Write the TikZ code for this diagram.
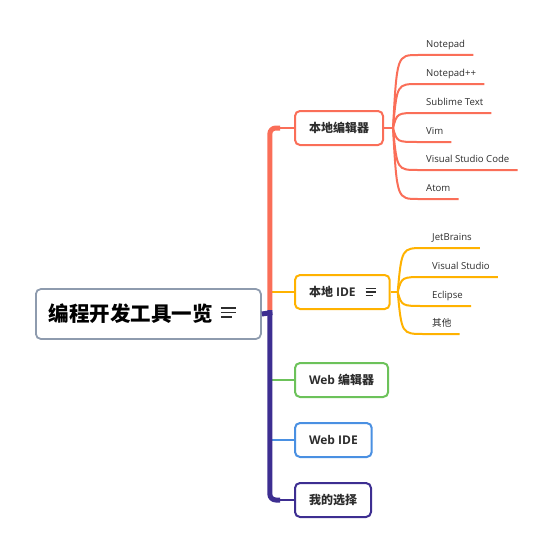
\documentclass[tikz,border=0pt]{standalone}
\usepackage{fontspec}
\setmainfont{Open Sans}
\newfontfamily\cjk{Noto Sans CJK SC}
\usetikzlibrary{calc}
\definecolor{cO}{RGB}{250,110,88}
\definecolor{cY}{RGB}{255,178,0}
\definecolor{cG}{RGB}{108,194,90}
\definecolor{cB}{RGB}{74,144,226}
\definecolor{cP}{RGB}{61,46,145}
\definecolor{cR}{RGB}{142,155,174}
\definecolor{tx}{RGB}{45,45,45}
\begin{document}
\begin{tikzpicture}[x=1pt,y=-1pt,
  rootbox/.style={draw=cR, line width=1.8, rounded corners=5, fill=white, anchor=west,
    minimum height=50, text width=199, inner xsep=13, align=left, text=black,
    font=\cjk\bfseries\fontsize{20.5}{23}\selectfont},
  mainbox/.style={line width=2, rounded corners=5, fill=white, anchor=west,
    minimum height=34, inner xsep=14, text=tx, font=\bfseries\fontsize{12}{14}\selectfont},
  leaf/.style={anchor=south west, inner xsep=8, inner ysep=5.2, text height=7, text depth=2.5,
    text=tx, font=\fontsize{9.6}{11}\selectfont},
  conn/.style={line width=2},
  edl/.style={conn, draw=cO},
  idl/.style={conn, draw=cY},
  icon/.style={draw=tx, line width=1.3}
]
\useasboundingbox (0,0) rectangle (550,551);

% main nodes
\node[rootbox] (root) at (35,314) {编程开发工具一览};
\node[mainbox, draw=cO] (ed) at (294,128) {\cjk 本地编辑器};
\node[mainbox, draw=cY] (ide) at (294,292) {{\cjk 本地} IDE\hspace*{20pt}};
\node[mainbox, draw=cG] (web) at (294,380) {Web {\cjk 编辑器}};
\node[mainbox, draw=cB] (wide) at (294,440) {Web IDE};
\node[mainbox, draw=cP] (mine) at (294,500) {\cjk 我的选择};

% icons
\draw[icon] ($(root.east)+(-41,-6)$) -- +(15,0);
\draw[icon] ($(root.east)+(-41,-1.5)$) -- +(15,0);
\draw[icon] ($(root.east)+(-41,3)$) -- +(11,0);
\draw[icon] ($(ide.east)+(-25,-3.5)$) -- +(10,0);
\draw[icon] ($(ide.east)+(-25,0)$) -- +(10,0);
\draw[icon] ($(ide.east)+(-25,3.5)$) -- +(7,0);

% trunk
\coordinate (tj) at ($(root.east)+(8,-1.5)$);
\draw[idl] ($(tj |- ide.west)+(2,0)$) -- (ide.west);
\draw[conn, draw=cG] ($(tj |- web.west)+(2,0)$) -- (web.west);
\draw[conn, draw=cB] ($(tj |- wide.west)+(2,0)$) -- (wide.west);
\draw[draw=cO, line width=5, rounded corners=6] ($(tj)+(0,-2.5)$) |- ($(ed.west)+(-14,0)$);
\draw[edl] ($(ed.west)+(-16,0)$) -- (ed.west);
\draw[draw=cP, line width=5, rounded corners=6] ($(tj)+(0,-2.5)$) |- ($(mine.west)+(-14,0)$);
\draw[conn, draw=cP] ($(mine.west)+(-16,0)$) -- (mine.west);
\draw[draw=cP, line width=5] (root.east) -- ($(tj)+(2.5,0)$);

% editor leaves
\coordinate (eb) at ($(ed.east)+(9,0)$);
\draw[edl] (ed.east) -- (eb);
\node[leaf] (n1) at (418,55) {Notepad};
\node[leaf] (n2) at (418,84) {Notepad++};
\node[leaf] (n3) at (418,113) {Sublime Text};
\node[leaf] (n4) at (418,142) {Vim};
\node[leaf] (n5) at (418,170) {Visual Studio Code};
\node[leaf] (n6) at (418,199) {Atom};
\foreach \n in {n1,n2,n3,n4,n5,n6}
  \draw[edl] (eb) .. controls ($(eb |- \n.south west)+(4,0)$) .. (\n.south west) -- (\n.south east);

% IDE leaves
\coordinate (ib) at ($(ide.east)+(7,0)$);
\draw[idl] (ide.east) -- (ib);
\node[leaf] (m1) at (424,248) {JetBrains};
\node[leaf] (m2) at (424,277) {Visual Studio};
\node[leaf] (m3) at (424,306) {Eclipse};
\node[leaf] (m4) at (424,334) {\cjk 其他};
\foreach \n in {m1,m2,m3,m4}
  \draw[idl] (ib) .. controls ($(ib |- \n.south west)+(4,0)$) .. (\n.south west) -- (\n.south east);
\end{tikzpicture}
\end{document}
